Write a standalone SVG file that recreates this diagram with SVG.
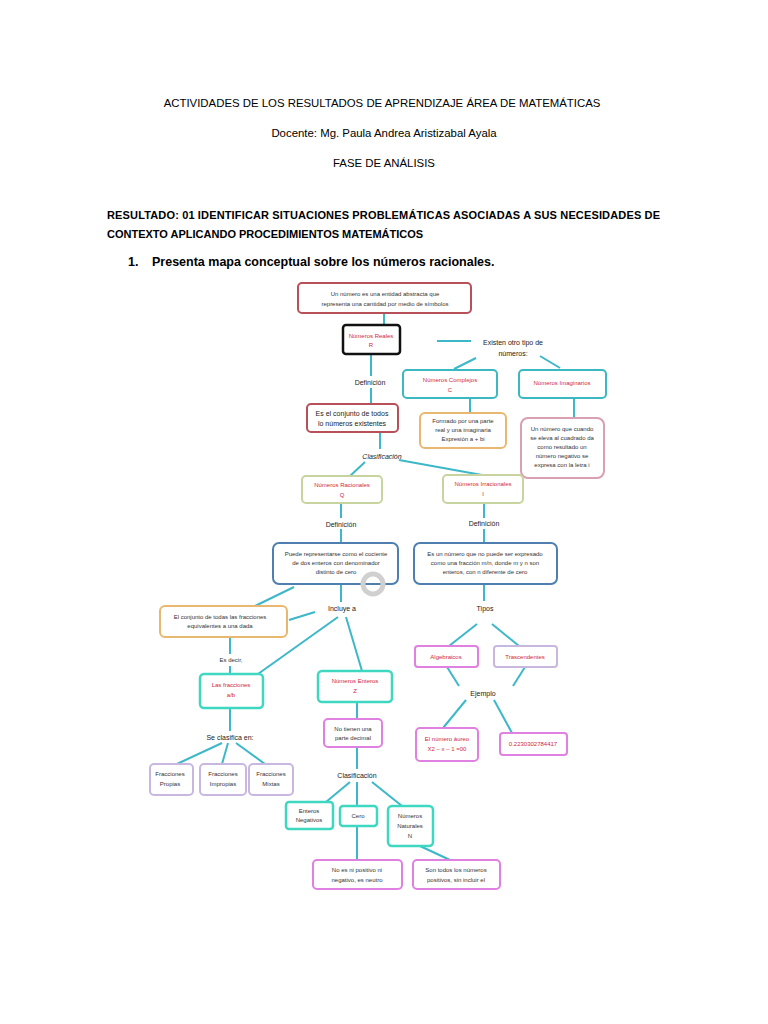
<svg xmlns="http://www.w3.org/2000/svg" width="768" height="1024" viewBox="0 0 768 1024">
<style>
.h{font-family:"Liberation Sans",Arial,sans-serif;font-size:11.4px;fill:#000}
.hb{font-family:"Liberation Sans",Arial,sans-serif;font-size:11px;font-weight:bold;fill:#000}
.hb2{font-family:"Liberation Sans",Arial,sans-serif;font-size:12.5px;font-weight:bold;fill:#000}
.t{font-family:"Liberation Sans",Arial,sans-serif;font-size:6px;fill:#333;text-anchor:middle}
.r{font-family:"Liberation Sans",Arial,sans-serif;font-size:6px;fill:#d0283c;text-anchor:middle}
.l{font-family:"Liberation Sans",Arial,sans-serif;font-size:7px;fill:#222;text-anchor:middle}
rect{fill:#fff;stroke-width:2}
.red{stroke:#b8505a}.blk{stroke:#111;stroke-width:2.5}.tl{stroke:#3cb8c0}.or{stroke:#e8b870}.pk{stroke:#d8a0b0}
.gr{stroke:#c8d4a0}.bl{stroke:#4f7fb0}.mg{stroke:#e080e0}.lv{stroke:#c8b8e0}.tq{stroke:#3ed8c0;stroke-width:2.5}
#connectors line{stroke:#3cb8c8;stroke-width:2}
</style>
<rect x="0" y="0" width="768" height="1024" style="fill:#fff;stroke:none"/>
<text class="h" x="382" y="107" text-anchor="middle">ACTIVIDADES DE LOS RESULTADOS DE APRENDIZAJE ÁREA DE MATEMÁTICAS</text>
<text class="h" x="384" y="137" text-anchor="middle">Docente: Mg. Paula Andrea Aristizabal Ayala</text>
<text class="h" x="384" y="167" text-anchor="middle">FASE DE ANÁLISIS</text>
<text class="hb" x="107" y="219" textLength="553" lengthAdjust="spacing">RESULTADO: 01 IDENTIFICAR SITUACIONES PROBLEMÁTICAS ASOCIADAS A SUS NECESIDADES DE</text>
<text class="hb" x="107" y="238">CONTEXTO APLICANDO PROCEDIMIENTOS MATEMÁTICOS</text>
<text class="hb2" x="128" y="266">1.</text>
<text class="hb2" x="152" y="266">Presenta mapa conceptual sobre los números racionales.</text>

<g id="connectors">
<line x1="384" y1="313" x2="384" y2="325"/><line x1="371" y1="354" x2="371" y2="376"/><line x1="371" y1="388" x2="371" y2="404"/>
<line x1="437" y1="341" x2="471" y2="341"/><line x1="476" y1="358" x2="454" y2="369"/><line x1="540" y1="356" x2="560" y2="368"/>
<line x1="470" y1="398" x2="470" y2="413"/><line x1="574" y1="398" x2="574" y2="418"/>
<line x1="380" y1="432" x2="380" y2="449"/><line x1="365" y1="462" x2="350" y2="476"/><line x1="399" y1="460" x2="482" y2="475"/>
<line x1="341" y1="503" x2="341" y2="518"/><line x1="341" y1="529" x2="341" y2="543"/>
<line x1="484" y1="503" x2="484" y2="518"/><line x1="484" y1="529" x2="484" y2="543"/>
<line x1="341" y1="584" x2="341" y2="602"/><line x1="294" y1="587" x2="255" y2="606"/>
<line x1="315" y1="612" x2="289" y2="620"/><line x1="338" y1="617" x2="258" y2="674"/><line x1="346" y1="617" x2="362" y2="671"/>
<line x1="230" y1="637" x2="230" y2="654"/><line x1="230" y1="666" x2="230" y2="674"/>
<line x1="230" y1="708" x2="230" y2="731"/><line x1="222" y1="743" x2="177" y2="764"/><line x1="228" y1="743" x2="222" y2="764"/><line x1="236" y1="743" x2="265" y2="764"/>
<line x1="357" y1="702" x2="357" y2="719"/><line x1="357" y1="747" x2="357" y2="769"/>
<line x1="350" y1="782" x2="326" y2="802"/><line x1="357" y1="782" x2="357" y2="860"/><line x1="372" y1="782" x2="402" y2="806"/>
<line x1="420" y1="846" x2="450" y2="860"/>
<line x1="484" y1="584" x2="484" y2="601"/><line x1="477" y1="624" x2="449" y2="646"/><line x1="492" y1="624" x2="519" y2="646"/>
<line x1="447" y1="667" x2="459" y2="686"/><line x1="525" y1="667" x2="513" y2="686"/>
<line x1="466" y1="700" x2="443" y2="728"/><line x1="494" y1="700" x2="512" y2="733"/>
</g>

<g id="n_def"><rect class="red" x="298" y="283" width="173" height="30" rx="4"/><text class="t" x="385" y="296">Un número es una entidad abstracta que</text><text class="t" x="385" y="306">representa una cantidad por medio de símbolos</text></g>
<g id="n_reales"><rect class="blk" x="343" y="325" width="57" height="29" rx="3"/><text class="r" x="371" y="338">Números Reales</text><text class="r" x="371" y="347">R</text></g>
<g id="l_existen"><text class="l" x="513" y="345">Existen otro tipo de</text><text class="l" x="513" y="356">números:</text></g>
<g id="l_def1"><text class="l" x="370" y="385">Definición</text></g>
<g id="n_conj"><rect class="red" x="307" y="404" width="91" height="28" rx="4"/><text class="l" x="352" y="416">Es el conjunto de todos</text><text class="l" x="352" y="426">lo números existentes</text></g>
<g id="n_compl"><rect class="tl" x="403" y="370" width="94" height="28" rx="4"/><text class="r" x="450" y="382">Números Complejos</text><text class="r" x="450" y="392">C</text></g>
<g id="n_imag"><rect class="tl" x="519" y="370" width="87" height="28" rx="4"/><text class="r" x="562" y="385">Números Imaginarios</text></g>
<g id="n_form"><rect class="or" x="420" y="413" width="86" height="35" rx="5"/><text class="t" x="463" y="423">Formado por una parte</text><text class="t" x="463" y="432">real y una imaginaria</text><text class="t" x="463" y="441">Expresión a + bi</text></g>
<g id="n_unnum"><rect class="pk" x="521" y="418" width="83" height="60" rx="7"/><text class="t" x="562" y="431">Un número que cuando</text><text class="t" x="562" y="440">se eleva al cuadrado da</text><text class="t" x="562" y="449">como resultado un</text><text class="t" x="562" y="458">número negativo se</text><text class="t" x="562" y="467">expresa con la letra i</text></g>
<g id="l_clas1"><text class="l" x="382" y="459" font-style="italic">Clasificación</text></g>
<g id="n_rac"><rect class="gr" x="302" y="476" width="80" height="27" rx="4"/><text class="r" x="342" y="487">Números Racionales</text><text class="r" x="342" y="497">Q</text></g>
<g id="n_irr"><rect class="gr" x="443" y="475" width="80" height="28" rx="4"/><text class="r" x="483" y="486">Números Irracionales</text><text class="r" x="483" y="496">I</text></g>
<g id="l_def2"><text class="l" x="341" y="527">Definición</text></g>
<g id="l_def3"><text class="l" x="484" y="526">Definición</text></g>
<g id="n_puede"><rect class="bl" x="273" y="543" width="125" height="41" rx="6"/><text class="t" x="336" y="556">Puede representarse como el cociente</text><text class="t" x="336" y="565">de dos enteros con denominador</text><text class="t" x="336" y="574">distinto de cero</text></g>
<g id="n_esun"><rect class="bl" x="414" y="543" width="143" height="41" rx="6"/><text class="t" x="485" y="556">Es un número que no puede ser expresado</text><text class="t" x="485" y="565">como una fracción m/n, donde m y n son</text><text class="t" x="485" y="574">enteros, con n diferente de cero</text></g>
<circle cx="373" cy="584" r="10" fill="none" stroke="#d0d0d0" stroke-width="5"/>
<g id="l_incl"><text class="l" x="342" y="611">Incluye a</text></g>
<g id="l_tipos"><text class="l" x="485" y="611">Tipos</text></g>
<g id="n_elconj"><rect class="or" x="160" y="606" width="127" height="31" rx="5"/><text class="t" x="220" y="619">El conjunto de todas las fracciones</text><text class="t" x="220" y="628" font-size="5">equivalentes a una dada</text></g>
<g id="l_esdecir"><text class="t" x="231" y="662">Es decir,</text></g>
<g id="n_lasfr"><rect class="tq" x="200" y="674" width="63" height="34" rx="4"/><text class="r" x="231" y="687">Las fracciones</text><text class="r" x="231" y="697">a/b</text></g>
<g id="n_ent"><rect class="tq" x="318" y="671" width="74" height="31" rx="4"/><text class="r" x="355" y="683">Números Enteros</text><text class="r" x="355" y="693">Z</text></g>
<g id="n_alg"><rect class="mg" x="415" y="646" width="63" height="21" rx="3"/><text class="r" x="446" y="659">Algebraicos</text></g>
<g id="n_tras"><rect class="lv" x="494" y="646" width="63" height="21" rx="3"/><text class="r" x="525" y="659">Trascendentes</text></g>
<g id="l_ej"><text class="l" x="483" y="696">Ejemplo</text></g>
<g id="n_aureo"><rect class="mg" x="416" y="728" width="62" height="33" rx="4"/><text class="r" x="447" y="741">El número áureo</text><text class="r" x="447" y="751">X2 – x – 1 =00</text></g>
<g id="n_num"><rect class="mg" x="500" y="733" width="67" height="22" rx="3"/><text class="r" x="533" y="746">0.2230302784417</text></g>
<g id="l_sec"><text class="l" x="230" y="740">Se clasifica en:</text></g>
<g id="n_notien"><rect class="mg" x="324" y="719" width="58" height="28" rx="4"/><text class="t" x="353" y="731">No tienen una</text><text class="t" x="353" y="740">parte decimal</text></g>
<g id="n_fp"><rect class="lv" x="150" y="764" width="43" height="31" rx="4"/><text class="t" x="170" y="776">Fracciones</text><text class="t" x="170" y="786">Propias</text></g>
<g id="n_fi"><rect class="lv" x="200" y="764" width="46" height="31" rx="4"/><text class="t" x="223" y="776">Fracciones</text><text class="t" x="223" y="786">Impropias</text></g>
<g id="n_fm"><rect class="lv" x="249" y="764" width="44" height="31" rx="4"/><text class="t" x="271" y="776">Fracciones</text><text class="t" x="271" y="786">Mixtas</text></g>
<g id="l_clas2"><text class="l" x="357" y="778">Clasificación</text></g>
<g id="n_eneg"><rect class="tq" x="286" y="802" width="47" height="27" rx="3"/><text class="t" x="309" y="813">Enteros</text><text class="t" x="309" y="822">Negativos</text></g>
<g id="n_cero"><rect class="tq" x="340" y="806" width="37" height="20" rx="3"/><text class="t" x="358" y="818">Cero</text></g>
<g id="n_nat"><rect class="tq" x="388" y="806" width="45" height="40" rx="4"/><text class="t" x="410" y="818">Números</text><text class="t" x="410" y="828">Naturales</text><text class="t" x="410" y="838">N</text></g>
<g id="n_noes"><rect class="mg" x="313" y="860" width="89" height="29" rx="4"/><text class="t" x="357" y="872">No es ni positivo ni</text><text class="t" x="357" y="882">negativo, es neutro</text></g>
<g id="n_son"><rect class="mg" x="413" y="860" width="87" height="29" rx="4"/><text class="t" x="456" y="872">Son todos los números</text><text class="t" x="456" y="882">positivos, sin incluir el</text></g>
</svg>
